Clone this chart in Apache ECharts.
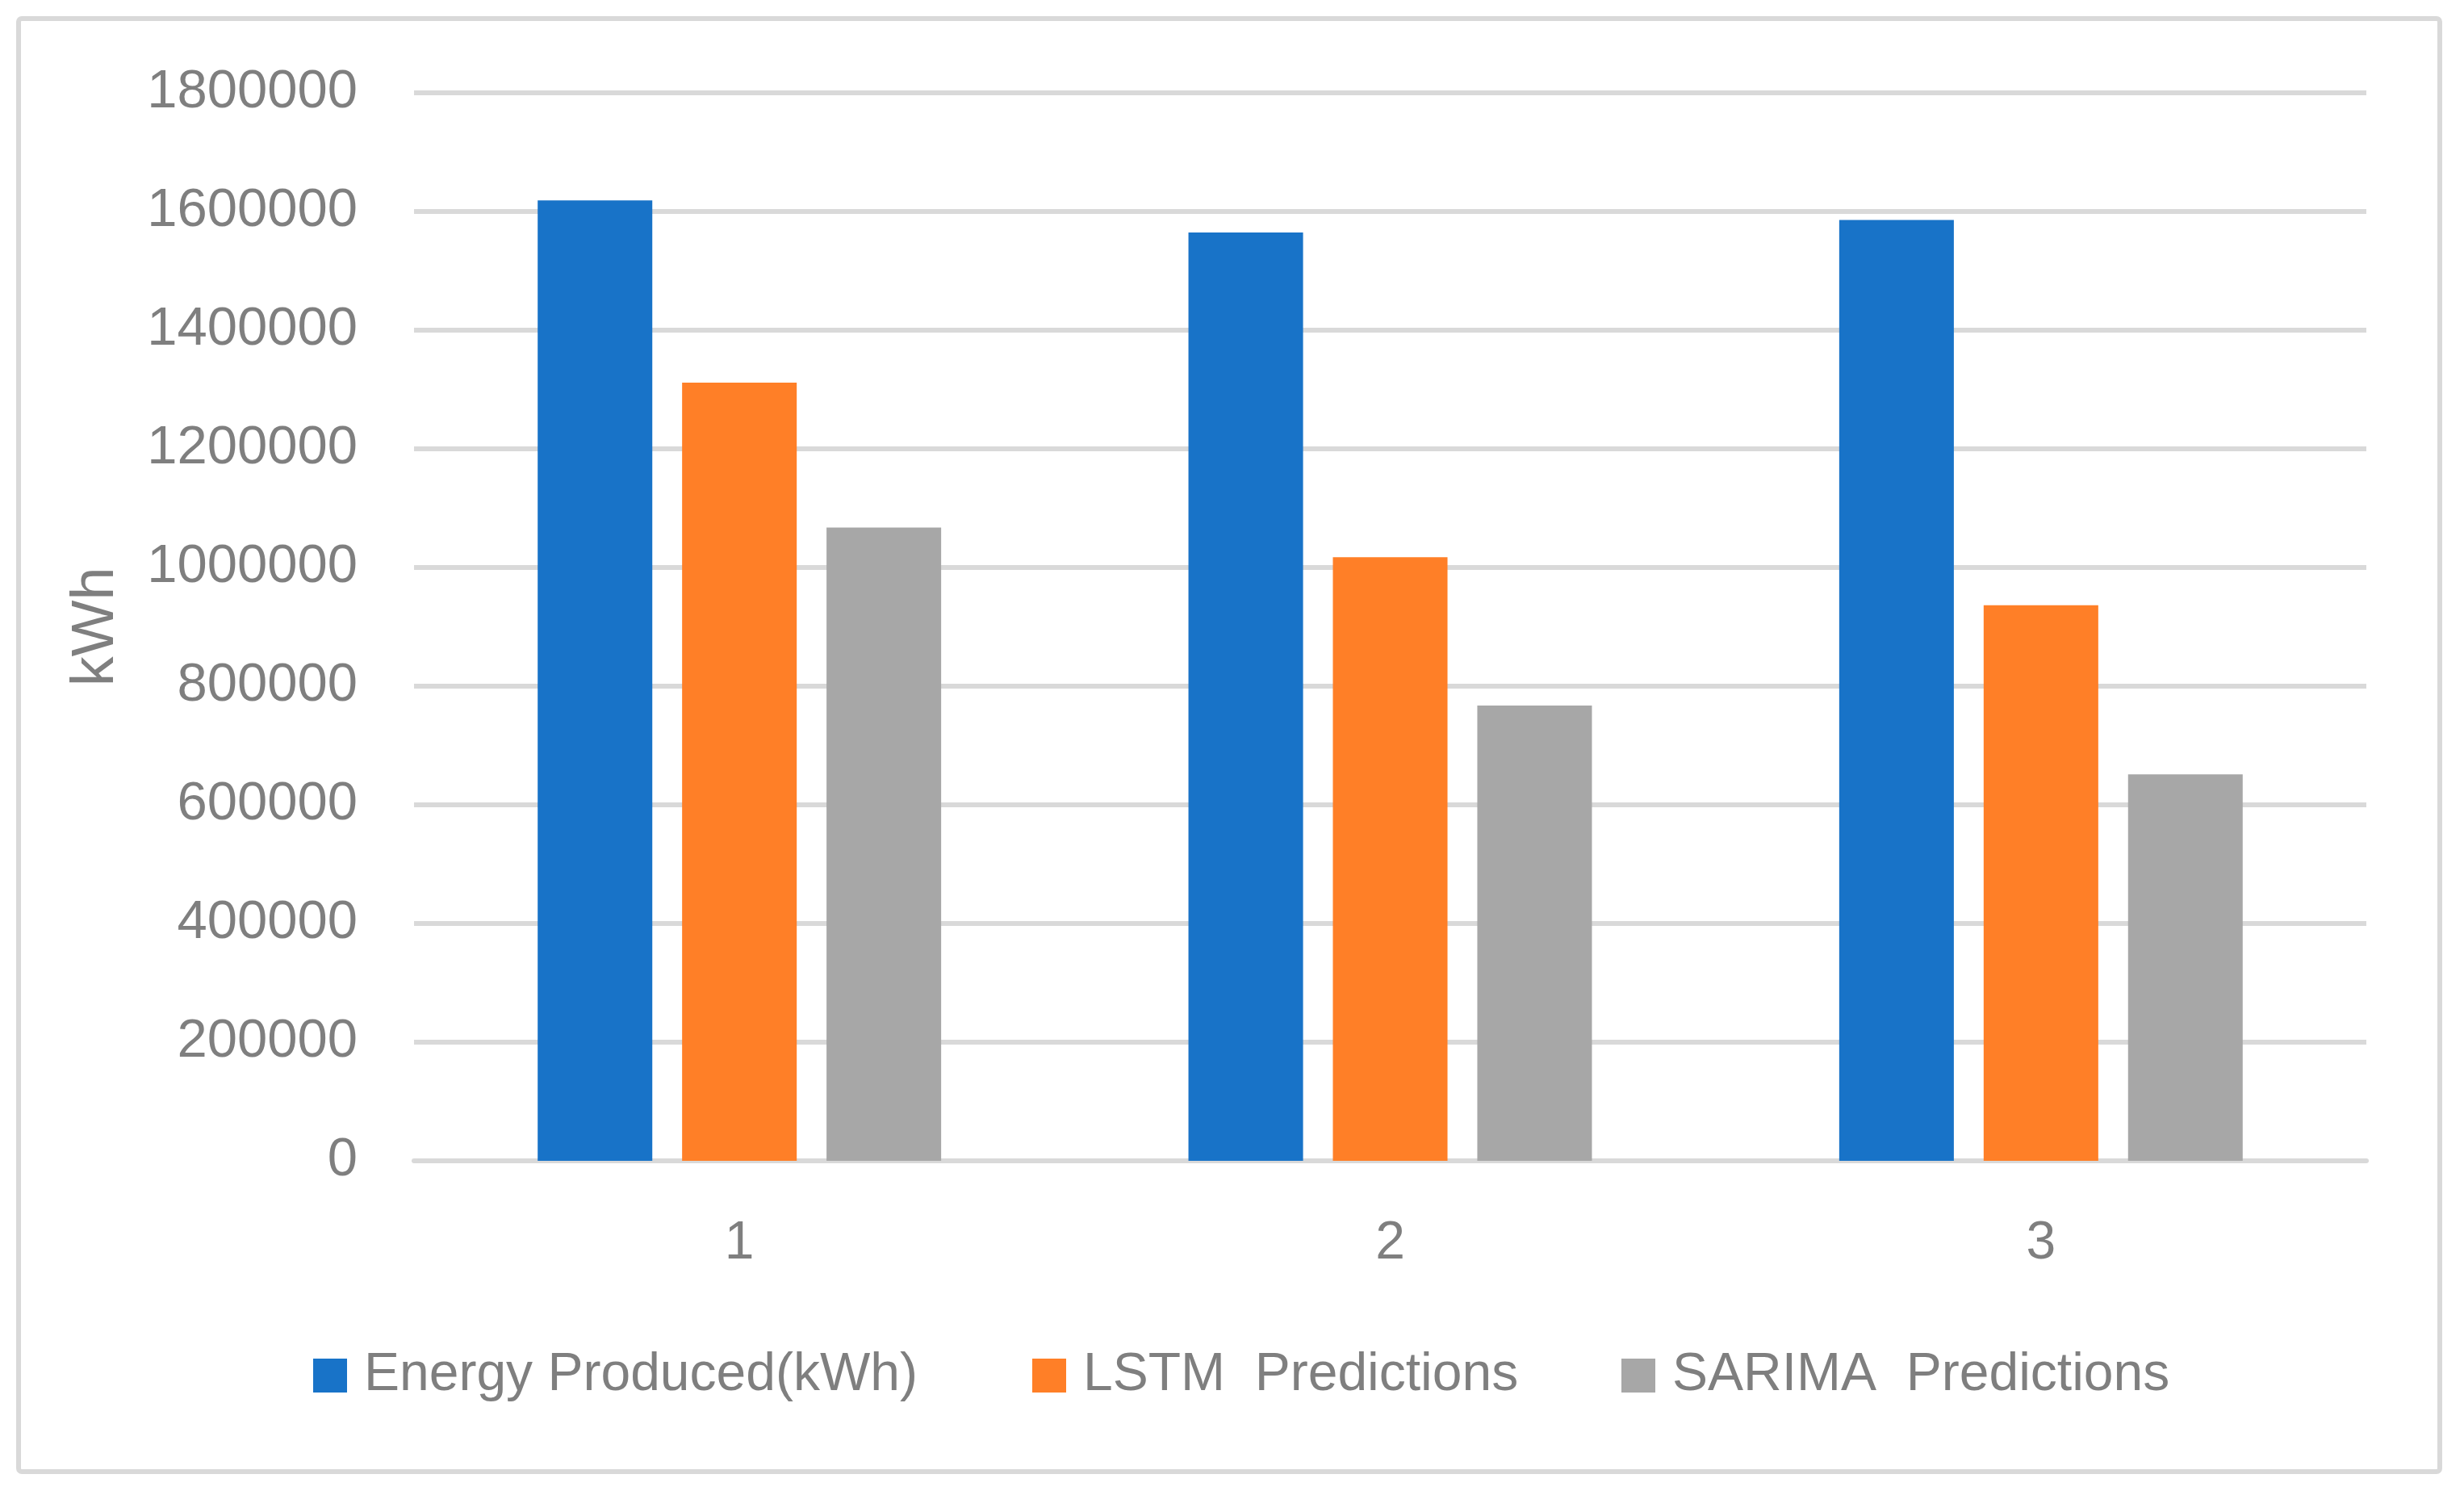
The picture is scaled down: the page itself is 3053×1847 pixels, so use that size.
<!DOCTYPE html>
<html>
<head>
<meta charset="utf-8">
<script src="https://cdn.jsdelivr.net/npm/echarts@6/dist/echarts.min.js"></script>
<style>
html,body{margin:0;padding:0;background:#fff;}
#chart{width:3053px;height:1847px;}
</style>
</head>
<body>
<div id="chart"></div>
<script>
const categories = ['1', '2', '3'];
const energyProduced = [1618000, 1564000, 1585000];
const lstmPredictions = [1311000, 1017000, 936000];
const sarimaPredictions = [1067000, 767000, 651000];
const seriesNames = ['Energy Produced(kWh)', 'LSTM  Predictions', 'SARIMA  Predictions'];
const yAxisName = 'kWh';

const FONT = '"Liberation Sans", Arial, sans-serif';
const TEXT = '#7f7f7f';
const GRID = '#d9d9d9';
const legendLefts = [388, 1279, 2009];

const chart = echarts.init(document.getElementById('chart'), null, {renderer: 'canvas'});
chart.setOption({
  animation: false,
  backgroundColor: '#ffffff',
  color: ['#1873c8', '#ff7f27', '#a7a7a7'],
  graphic: [{
    type: 'rect',
    shape: {x: 23, y: 23, width: 3000, height: 1800, r: 4},
    style: {fill: 'none', stroke: GRID, lineWidth: 6},
    silent: true,
    z: 0
  }],
  grid: {left: 513, right: 121, top: 114.5, bottom: 409, containLabel: false},
  legend: seriesNames.map(function (n, i) {
    return {
      left: legendLefts[i],
      top: 1671,
      padding: 0,
      itemWidth: 42,
      itemHeight: 42,
      icon: 'rect',
      selectedMode: false,
      textStyle: {fontFamily: FONT, fontSize: 66, color: TEXT, padding: [0, 0, 0, 16]},
      data: [n]
    };
  }),
  xAxis: {
    type: 'category',
    data: categories,
    axisLine: {show: true, lineStyle: {color: GRID, width: 6}},
    axisTick: {show: false},
    axisLabel: {fontFamily: FONT, fontSize: 66, color: TEXT, margin: 70}
  },
  yAxis: {
    type: 'value',
    min: 0,
    max: 1800000,
    interval: 200000,
    name: yAxisName,
    nameLocation: 'middle',
    nameGap: 356,
    nameTextStyle: {fontFamily: FONT, fontSize: 74, color: TEXT},
    axisLine: {show: false},
    axisTick: {show: false},
    splitLine: {lineStyle: {color: GRID, width: 6}},
    axisLabel: {fontFamily: FONT, fontSize: 67, color: TEXT, margin: 70, formatter: function (v) { return String(v); }}
  },
  series: [
    {name: seriesNames[0], type: 'bar', data: energyProduced, barGap: '26%', barCategoryGap: '38%'},
    {name: seriesNames[1], type: 'bar', data: lstmPredictions, barGap: '26%', barCategoryGap: '38%'},
    {name: seriesNames[2], type: 'bar', data: sarimaPredictions, barGap: '26%', barCategoryGap: '38%'}
  ]
});
</script>
</body>
</html>
